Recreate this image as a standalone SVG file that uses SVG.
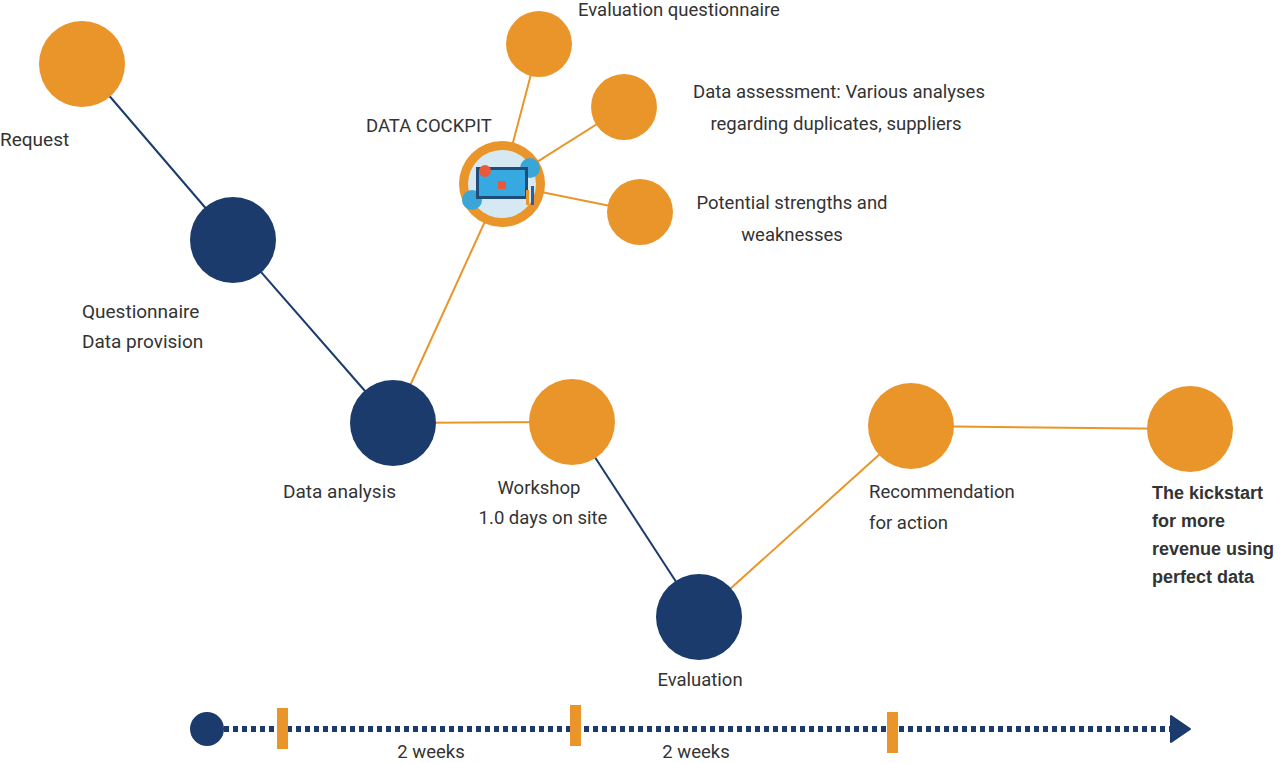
<svg xmlns="http://www.w3.org/2000/svg" width="1287" height="763" viewBox="0 0 1287 763">
<style>
.o{fill:#e9952a}.b{fill:#1a3b6b}
.lo{stroke:#e9952a;stroke-width:2;fill:none}.lb{stroke:#1a3b6b;stroke-width:2;fill:none}
text{font-family:Roboto,"Liberation Sans",sans-serif;font-size:19px;fill:#333}
.bold{font-family:"Liberation Sans",Arial,sans-serif;font-weight:bold;font-size:18px}
.sm{font-size:18.5px}
</style>
<rect width="1287" height="763" fill="#fff"/>
<g id="connectors">
<line class="lb" x1="82" y1="64" x2="233" y2="240"/>
<line class="lb" x1="233" y1="240" x2="393" y2="423"/>
<line class="lo" x1="393" y1="423" x2="502" y2="184"/>
<line class="lo" x1="502" y1="184" x2="539" y2="44"/>
<line class="lo" x1="502" y1="184" x2="624" y2="107"/>
<line class="lo" x1="502" y1="184" x2="640" y2="212"/>
<line class="lo" x1="393" y1="423" x2="572" y2="422"/>
<line class="lb" x1="572" y1="422" x2="699" y2="617"/>
<line class="lo" x1="699" y1="617" x2="911" y2="426"/>
<line class="lo" x1="911" y1="426" x2="1190" y2="429"/>
</g>
<g id="request"><circle class="o" cx="82" cy="64" r="43"/><text x="0" y="146">Request</text></g>
<g id="questionnaire"><circle class="b" cx="233" cy="240" r="43"/><text x="82" y="318">Questionnaire</text><text x="82" y="348">Data provision</text></g>
<g id="analysis"><circle class="b" cx="393" cy="423" r="43"/><text x="283" y="498">Data analysis</text></g>
<g id="cockpit">
<circle class="o" cx="502" cy="184" r="43"/>
<circle cx="502" cy="184" r="34" fill="#d6e9f2"/>
<circle cx="530" cy="168" r="10" fill="#3aa6d8"/>
<circle cx="472" cy="200" r="10" fill="#3aa6d8"/>
<rect x="476" y="167" width="52" height="32" fill="#1e4d7a"/>
<rect x="479" y="170" width="46" height="26" fill="#36a9e1"/>
<rect x="498" y="181" width="8" height="8" fill="#e85a3a"/>
<circle cx="485" cy="171" r="6" fill="#e85a3a"/>
<rect x="526" y="190" width="3" height="15" fill="#e9952a"/><rect x="531" y="186" width="3" height="19" fill="#2a5ea8"/>
<text x="366" y="132" class="sm">DATA COCKPIT</text></g>
<g id="evalq"><circle class="o" cx="539" cy="44" r="33"/><text x="578" y="16" class="sm">Evaluation questionnaire</text></g>
<g id="assessment"><circle class="o" cx="624" cy="107" r="33"/><text x="839" y="98" text-anchor="middle" class="sm">Data assessment: Various analyses</text><text x="836" y="130" text-anchor="middle" class="sm">regarding duplicates, suppliers</text></g>
<g id="potential"><circle class="o" cx="640" cy="212" r="33"/><text x="792" y="209" text-anchor="middle" class="sm">Potential strengths and</text><text x="792" y="241" text-anchor="middle" class="sm">weaknesses</text></g>
<g id="workshop"><circle class="o" cx="572" cy="422" r="43"/><text x="539" y="494" text-anchor="middle" class="sm">Workshop</text><text x="543" y="524" text-anchor="middle" class="sm">1.0 days on site</text></g>
<g id="evaluation"><circle class="b" cx="699" cy="617" r="43"/><text x="700" y="686" text-anchor="middle" class="sm">Evaluation</text></g>
<g id="recommendation"><circle class="o" cx="911" cy="426" r="43"/><text x="869" y="498" class="sm">Recommendation</text><text x="869" y="529" class="sm">for action</text></g>
<g id="kickstart"><circle class="o" cx="1190" cy="429" r="43"/>
<text class="bold" x="1152" y="499">The kickstart</text><text class="bold" x="1152" y="527">for more</text><text class="bold" x="1152" y="555">revenue using</text><text class="bold" x="1152" y="583">perfect data</text></g>
<g id="timeline">
<line x1="224" y1="729" x2="1172" y2="729" stroke="#1a3b6b" stroke-width="6" stroke-dasharray="5 4"/>
<circle class="b" cx="207" cy="729" r="17"/>
<path class="b" d="M1171 716 L1190 729 L1171 742 Z" stroke="#1a3b6b" stroke-width="2" stroke-linejoin="round"/>
<rect class="o" x="277" y="708" width="11" height="41"/>
<rect class="o" x="570" y="705" width="11" height="41"/>
<rect class="o" x="887" y="712" width="11" height="41"/>
<text x="431" y="758" text-anchor="middle" class="sm">2 weeks</text>
<text x="696" y="758" text-anchor="middle" class="sm">2 weeks</text>
</g>
</svg>
